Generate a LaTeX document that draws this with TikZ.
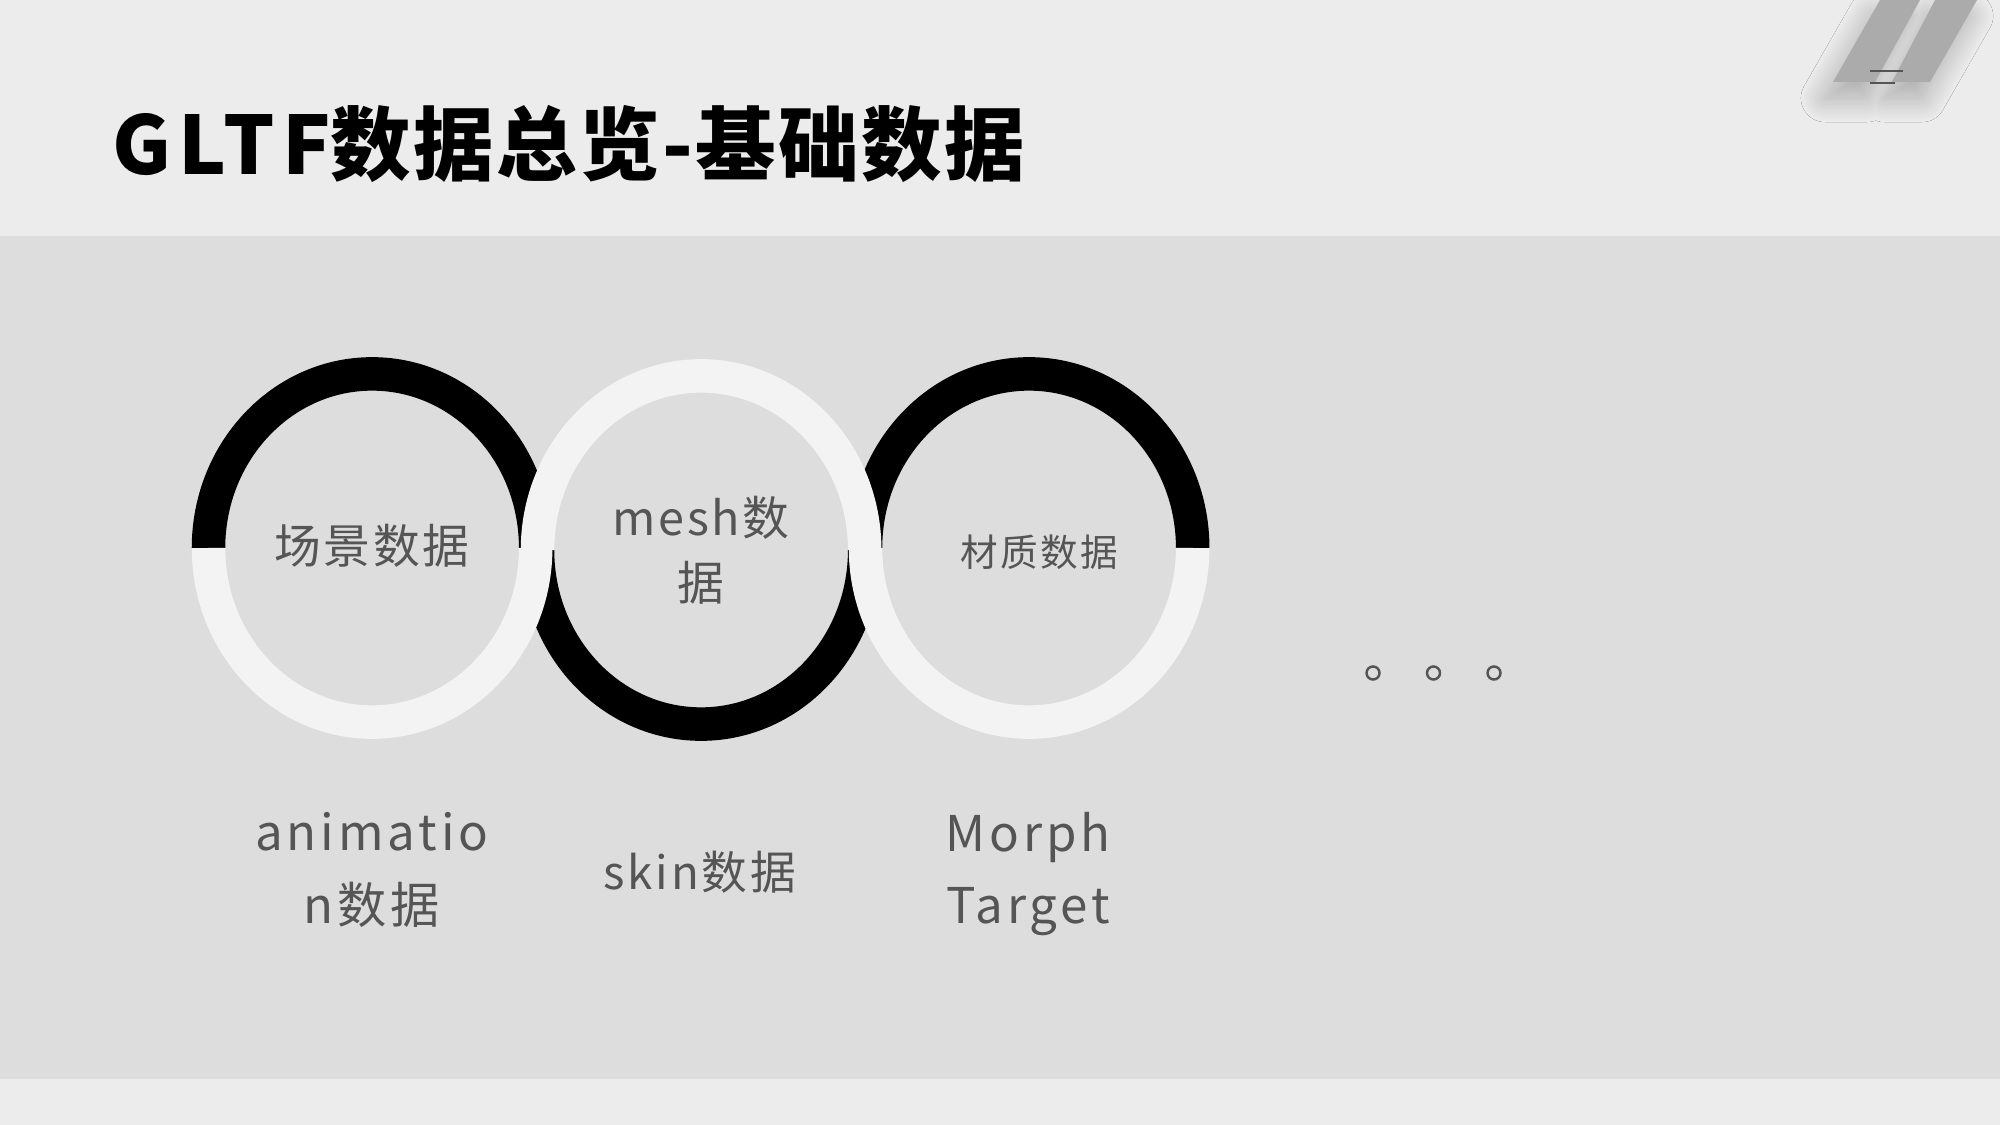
\documentclass[tikz,border=0pt]{standalone}
\usepackage{fontspec}
\setmainfont{Noto Sans CJK SC}
\usepackage{xcolor}
\usetikzlibrary{positioning,calc,shadows.blur}

\definecolor{bandtop}{HTML}{ECECEC}
\definecolor{bandmain}{HTML}{DDDDDD}
\definecolor{ringwhite}{HTML}{F3F3F3}
\definecolor{labelgray}{HTML}{555555}
\definecolor{logogray}{HTML}{ABABAB}

\begin{document}
\begin{tikzpicture}[x=0.01cm,y=0.01cm,
				ringdark/.style={draw=black,line width=0.335cm},
				ringlight/.style={draw=ringwhite,line width=0.335cm},
				inlabel/.style={text=labelgray,align=center,inner sep=0pt,font=\fontsize{13.3pt}{18.5pt}\selectfont\addfontfeature{LetterSpace=6}},
				sublabel/.style={text=labelgray,align=center,inner sep=0pt,font=\fontsize{14pt}{20.5pt}\selectfont\addfontfeature{LetterSpace=8}},
				dotmark/.style={circle,draw=labelgray,line width=0.7pt,minimum size=0.13cm,inner sep=0pt}
				]
				\useasboundingbox (0,0) rectangle (2000,-1125);
				\fill[bandtop] (0,0) rectangle (2000,-1125);
				\fill[bandmain] (0,-236) rectangle (2000,-1079);
				
				% logo
				\fill[logogray,blur shadow={shadow xshift=-0.08cm,shadow yshift=-0.16cm,shadow blur radius=0.24cm,shadow blur steps=30,shadow opacity=28}]
					(1833,-82) -- (1875,-82) -- (1920,0) -- (1880,0) -- cycle
					(1892,-82) -- (1930,-82) -- (1977,0) -- (1935,0) -- cycle;
				\draw[labelgray,line width=0.5pt] (1870,-71) -- (1903,-71);
				\draw[labelgray,line width=0.5pt] (1870,-83) -- (1895,-83);
				
				\node[anchor=base west,inner sep=0pt] (title) at (112,-175) {\fontsize{22.9pt}{26pt}\selectfont\bfseries{\addfontfeature{LetterSpace=9}GLTF}\addfontfeature{LetterSpace=3}数据总览-基础数据};
				
				\coordinate (c1) at (372,-548);
				\coordinate (c2) at (701,-550);
				\coordinate (c3) at (1029,-548);
				
				% Anelli
				\draw[ringdark] ($(c1)+(-163.5,0)$) arc[start angle=180,end angle=0,x radius=1.635cm,y radius=1.74cm];
				\draw[ringdark] ($(c3)+(-163.5,0)$) arc[start angle=180,end angle=0,x radius=1.635cm,y radius=1.74cm];
				\draw[ringdark] ($(c2)+(-163.5,0)$) arc[start angle=180,end angle=360,x radius=1.635cm,y radius=1.74cm];
				\draw[ringlight] ($(c1)+(-163.5,0)$) arc[start angle=180,end angle=360,x radius=1.635cm,y radius=1.74cm];
				\draw[ringlight] ($(c3)+(-163.5,0)$) arc[start angle=180,end angle=360,x radius=1.635cm,y radius=1.74cm];
				\draw[ringlight] ($(c2)+(-163.5,0)$) arc[start angle=180,end angle=0,x radius=1.635cm,y radius=1.74cm];
				
				\node[inlabel] (scene) at (372,-546) {场景数据};
				\node[inlabel] (mesh) at (701,-550) {mesh数\\据};
				\node[inlabel,font=\fontsize{10.7pt}{14pt}\selectfont\addfontfeature{LetterSpace=6}] (material) at (1039,-552) {材质数据};
				
				\node[sublabel] (animation) at (372,-870) {animatio\\n数据};
				\node[sublabel,font=\fontsize{13pt}{18pt}\selectfont\addfontfeature{LetterSpace=6}] (skin) at (700,-872) {skin数据};
				\node[sublabel] (morph) at (1028,-874) {Morph\\Target};
				
				\node[dotmark] (dot1) at (1373,-673) {};
				\node[dotmark,right=0.45cm of dot1] (dot2) {};
				\node[dotmark,right=0.45cm of dot2] (dot3) {};
				
			\end{tikzpicture}
\end{document}
